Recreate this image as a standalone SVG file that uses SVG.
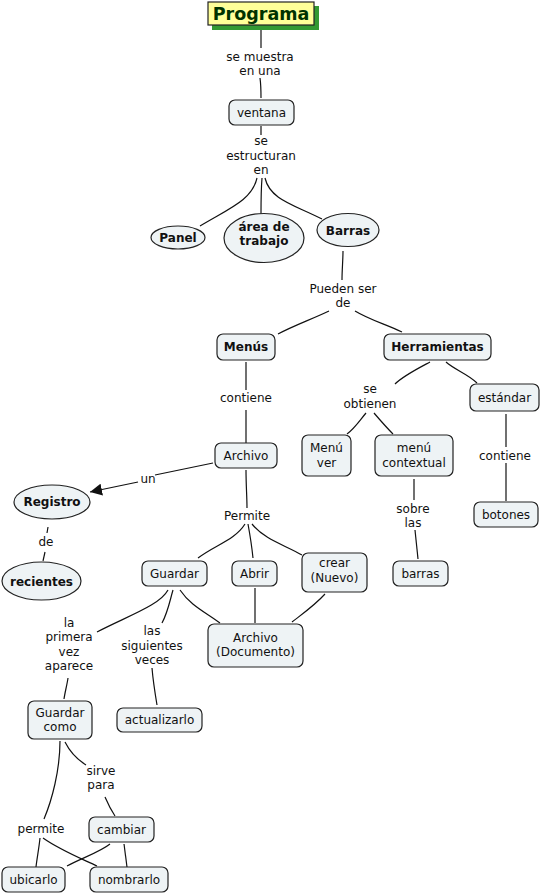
<svg xmlns="http://www.w3.org/2000/svg" width="541" height="895" viewBox="0 0 541 895">
<style>
.n{fill:#eef3f5;stroke:#222;stroke-width:1.2}
.t{font-family:"DejaVu Sans",Verdana,sans-serif;font-size:12px;fill:#111;text-anchor:middle}
.b{font-weight:bold}
.c{fill:none;stroke:#111;stroke-width:1.2}
</style>
<defs>
<marker id="ah" viewBox="0 0 10 10" refX="10" refY="5" markerWidth="12" markerHeight="12" markerUnits="userSpaceOnUse" orient="auto">
<path d="M0,0 L10,5 L0,10 z" fill="#111"/>
</marker>
</defs>
<rect width="541" height="895" fill="#fff"/>
<g id="connectors">
<path class="c" d="M261,29 L261,48"/>
<path class="c" d="M260,78 C261,85 261,92 261,98"/>
<path class="c" d="M261,126 L261,135"/>
<path class="c" d="M257,178 C252,200 230,208 200,226"/>
<path class="c" d="M262,178 C261,190 261,198 261,214"/>
<path class="c" d="M265,178 C270,200 295,205 322,219"/>
<path class="c" d="M343,251 C343,260 342,270 342,280"/>
<path class="c" d="M329,311 C310,320 295,325 278,334"/>
<path class="c" d="M355,311 C370,320 385,324 402,332"/>
<path class="c" d="M246,362 L246,390"/>
<path class="c" d="M246,410 L246,443"/>
<path class="c" d="M430,362 C415,370 403,376 395,384"/>
<path class="c" d="M446,362 C455,370 468,374 477,383"/>
<path class="c" d="M366,413 C360,420 355,428 347,434"/>
<path class="c" d="M374,413 C380,420 386,427 393,434"/>
<path class="c" d="M506,414 L506,447"/>
<path class="c" d="M506,463 L506,501"/>
<path class="c" d="M414,479 L414,500"/>
<path class="c" d="M415,530 C416,540 417,550 418,559"/>
<path class="c" d="M213,463 L155,475"/>
<path class="c" d="M138,482 L90,492" marker-end="url(#ah)"/>
<path class="c" d="M48,527 L47,533"/>
<path class="c" d="M45,552 L43,561"/>
<path class="c" d="M246,470 C246,485 247,497 247,508"/>
<path class="c" d="M245,524 C235,540 215,545 198,558"/>
<path class="c" d="M248,524 C250,535 252,548 253,558"/>
<path class="c" d="M252,524 C265,540 285,545 302,555"/>
<path class="c" d="M168,590 C160,605 130,615 97,632"/>
<path class="c" d="M173,590 C170,600 168,612 162,623"/>
<path class="c" d="M180,590 C190,605 205,612 220,623"/>
<path class="c" d="M255,588 L255,623"/>
<path class="c" d="M325,594 C315,605 305,612 292,622"/>
<path class="c" d="M68,678 C67,685 65,692 64,699"/>
<path class="c" d="M152,668 C153,680 155,693 157,705"/>
<path class="c" d="M60,741 C60,770 52,800 44,819"/>
<path class="c" d="M65,742 C70,752 78,760 86,765"/>
<path class="c" d="M105,797 C108,804 111,810 115,816"/>
<path class="c" d="M40,838 C39,848 37,858 36,867"/>
<path class="c" d="M43,838 C60,850 80,858 97,866"/>
<path class="c" d="M110,844 C100,852 82,858 67,866"/>
<path class="c" d="M124,844 C125,852 126,859 127,867"/>
</g>
<g id="programa">
<rect x="212" y="6" width="107" height="24" fill="#339933"/>
<rect x="208" y="2" width="106" height="23" fill="#ffff99" stroke="#222" stroke-width="1.2"/>
<text class="t b" x="261" y="20" style="font-size:17.5px;fill:#003300">Programa</text>
</g>
<g id="lbl-muestra"><text class="t" x="260" y="61">se muestra</text><text class="t" x="260" y="75">en una</text></g>
<g id="ventana"><rect class="n" x="229" y="100" width="65" height="25" rx="6"/><text class="t" x="261.5" y="117">ventana</text></g>
<g id="lbl-estructuran"><text class="t" x="261" y="145">se</text><text class="t" x="261" y="160">estructuran</text><text class="t" x="261" y="174">en</text></g>
<g id="panel"><ellipse class="n" cx="178" cy="237.5" rx="27" ry="11.5"/><text class="t b" x="178" y="242">Panel</text></g>
<g id="area"><ellipse class="n" cx="264" cy="238" rx="40" ry="24.5"/><text class="t b" x="264" y="231">área de</text><text class="t b" x="264" y="245">trabajo</text></g>
<g id="barras-node"><ellipse class="n" cx="348" cy="230" rx="31" ry="16.5"/><text class="t b" x="348" y="235">Barras</text></g>
<g id="lbl-pueden"><text class="t" x="343" y="293">Pueden ser</text><text class="t" x="343" y="307">de</text></g>
<g id="menus"><rect class="n" x="217" y="334" width="58" height="26" rx="6"/><text class="t b" x="246" y="351">Menús</text></g>
<g id="herramientas"><rect class="n" x="384" y="334" width="107" height="26" rx="6"/><text class="t b" x="437.5" y="351">Herramientas</text></g>
<g id="lbl-contiene1"><text class="t" x="246" y="402">contiene</text></g>
<g id="lbl-obtienen"><text class="t" x="370" y="393">se</text><text class="t" x="370" y="408">obtienen</text></g>
<g id="estandar"><rect class="n" x="470" y="384" width="69" height="27" rx="6"/><text class="t" x="504.5" y="402">estándar</text></g>
<g id="menu-ver"><rect class="n" x="302" y="435" width="49" height="41" rx="6"/><text class="t" x="326.5" y="452">Menú</text><text class="t" x="326.5" y="467">ver</text></g>
<g id="menu-contextual"><rect class="n" x="375" y="435" width="78" height="41" rx="6"/><text class="t" x="414" y="452">menú</text><text class="t" x="414" y="467">contextual</text></g>
<g id="lbl-contiene2"><text class="t" x="505" y="460">contiene</text></g>
<g id="botones"><rect class="n" x="474" y="502" width="64" height="25" rx="6"/><text class="t" x="506" y="519">botones</text></g>
<g id="lbl-sobre"><text class="t" x="413" y="513">sobre</text><text class="t" x="413" y="527">las</text></g>
<g id="barras"><rect class="n" x="393" y="561" width="55" height="25" rx="6"/><text class="t" x="420.5" y="578">barras</text></g>
<g id="archivo"><rect class="n" x="215" y="443" width="62" height="25" rx="6"/><text class="t" x="246" y="460">Archivo</text></g>
<g id="lbl-un"><text class="t" x="148" y="483">un</text></g>
<g id="registro"><ellipse class="n" cx="52" cy="502" rx="38" ry="17"/><text class="t b" x="52" y="506">Registro</text></g>
<g id="lbl-de"><text class="t" x="46" y="546">de</text></g>
<g id="recientes"><ellipse class="n" cx="41.5" cy="581" rx="39.5" ry="19"/><text class="t b" x="41.5" y="586">recientes</text></g>
<g id="lbl-permite1"><text class="t" x="247" y="520">Permite</text></g>
<g id="guardar"><rect class="n" x="142" y="561" width="65" height="25" rx="6"/><text class="t" x="174.5" y="578">Guardar</text></g>
<g id="abrir"><rect class="n" x="232" y="561" width="45" height="25" rx="6"/><text class="t" x="254.5" y="578">Abrir</text></g>
<g id="crear"><rect class="n" x="302" y="553" width="65" height="39" rx="6"/><text class="t" x="334.5" y="567">crear</text><text class="t" x="334.5" y="582">(Nuevo)</text></g>
<g id="archivo-doc"><rect class="n" x="208" y="624" width="95" height="43" rx="6"/><text class="t" x="255.5" y="642">Archivo</text><text class="t" x="255.5" y="656">(Documento)</text></g>
<g id="lbl-primera"><text class="t" x="69" y="627">la</text><text class="t" x="69" y="641">primera</text><text class="t" x="69" y="656">vez</text><text class="t" x="69" y="670">aparece</text></g>
<g id="lbl-siguientes"><text class="t" x="152" y="635">las</text><text class="t" x="152" y="650">siguientes</text><text class="t" x="152" y="664">veces</text></g>
<g id="guardar-como"><rect class="n" x="28" y="701" width="64" height="38" rx="6"/><text class="t" x="60" y="717">Guardar</text><text class="t" x="60" y="731">como</text></g>
<g id="actualizarlo"><rect class="n" x="117" y="708" width="85" height="24" rx="6"/><text class="t" x="159.5" y="724">actualizarlo</text></g>
<g id="lbl-sirve"><text class="t" x="101" y="775">sirve</text><text class="t" x="101" y="789">para</text></g>
<g id="lbl-permite2"><text class="t" x="41" y="833">permite</text></g>
<g id="cambiar"><rect class="n" x="89" y="817" width="65" height="25" rx="6"/><text class="t" x="121.5" y="834">cambiar</text></g>
<g id="ubicarlo"><rect class="n" x="2" y="867" width="63" height="25" rx="6"/><text class="t" x="33.5" y="884">ubicarlo</text></g>
<g id="nombrarlo"><rect class="n" x="90" y="867" width="78" height="25" rx="6"/><text class="t" x="129" y="884">nombrarlo</text></g>
</svg>
